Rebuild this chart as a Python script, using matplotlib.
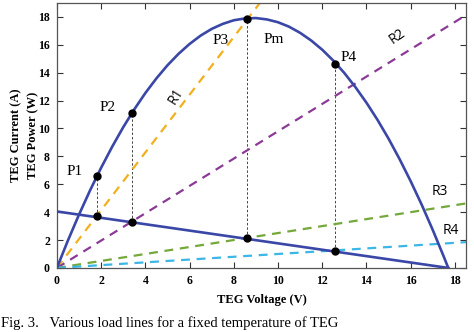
import numpy as np
import matplotlib.pyplot as plt

# ── Données ──────────────────────────────────────────────────────────────────
volt = [0, 0.5, 1, 1.5, 2, 2.5, 3, 3.5, 4, 4.5, 5, 5.5, 6, 6.5, 7, 7.5, 8,
        8.5, 9, 9.5, 10, 10.5, 11, 11.5, 12, 12.5, 13, 13.5, 14, 14.5, 15,
        15.5, 16, 16.5, 17, 17.5, 17.7]
power = [0, 1.97, 3.82, 5.56, 7.18, 8.69, 10.09, 11.37, 12.54, 13.59, 14.53,
         15.35, 16.06, 16.66, 17.14, 17.50, 17.76, 17.89, 17.92, 17.82, 17.62,
         17.30, 16.86, 16.31, 15.65, 14.87, 13.98, 12.97, 11.85, 10.62, 9.27,
         7.80, 6.22, 4.53, 2.72, 0.80, 0]
iv_volt = [0, 17.7]
iv_curr = [4.05, 0]

load_names = ['R1', 'R2', 'R3', 'R4']
load_slopes = [2.07, 0.98, 0.25, 0.10]
load_colors = ['#f2b01e', '#8b3a96', '#74a83a', '#3cb6e6']

pt_volt = [1.8, 3.4, 8.6, 12.6]
pt_power = [6.6, 11.1, 17.85, 14.6]
pt_curr = [3.7, 3.3, 2.15, 1.2]

x_ticks = list(range(0, 19, 2))
y_ticks = list(range(0, 19, 2))

serif = 'Liberation Serif'
blue = '#3a47a6'

fig = plt.figure(figsize=(4.74, 3.32), dpi=100)
ax = fig.add_axes([0.120, 0.193, 0.863, 0.798])

# droites de charge
xs = np.array([0, 18.5])
for name, k, c in zip(load_names, load_slopes, load_colors):
    ax.plot(xs, k * xs, '--', color=c, lw=1.6, dashes=(4, 3), zorder=2)

# traits verticaux
for v, p, i in zip(pt_volt, pt_power, pt_curr):
    ax.plot([v, v], [i, p], color='#444444', lw=0.7, ls=(0, (2.5, 2)), zorder=1)

# courbes TEG
ax.plot(volt, power, color=blue, lw=1.9, zorder=3)
ax.plot(iv_volt, iv_curr, color=blue, lw=1.9, zorder=3)

ax.plot(pt_volt, pt_power, 'o', color='black', ms=5, zorder=4)
ax.plot(pt_volt, pt_curr, 'o', color='black', ms=5, zorder=4)

# étiquettes des points
for txt, x, y in [('P1', 0.8, 6.9), ('P2', 2.3, 11.5), ('P3', 7.4, 16.3),
                  ('Pm', 9.8, 16.4), ('P4', 13.2, 15.1)]:
    ax.text(x, y, txt, family=serif, fontsize=11, ha='center', va='center')

for txt, x, y, rot in [('R1', 5.4, 12.3, 58), ('R2', 15.4, 16.6, 35),
                       ('R3', 17.3, 5.5, 0), ('R4', 17.8, 2.7, 0)]:
    ax.text(x, y, txt, family='Open Sans', fontsize=10, ha='center',
            va='center', rotation=rot)

ax.set_xlim(0, 18.5)
ax.set_ylim(0, 19)
ax.set_xticks(x_ticks)
ax.set_yticks(y_ticks)
ax.tick_params(direction='in', top=True, right=True, length=4, width=0.8,
               color='#333333', labelsize=8.5, pad=5)
for lab in ax.get_xticklabels() + ax.get_yticklabels():
    lab.set_family(serif)
    lab.set_fontweight('bold')
for s in ax.spines.values():
    s.set_color('#555555')
    s.set_linewidth(0.9)

ax.set_xlabel('TEG Voltage (V)', family=serif, fontweight='bold', fontsize=9,
              labelpad=5)
ax.set_ylabel('TEG Current (A)\nTEG Power (W)', family=serif, fontweight='bold',
              fontsize=9, labelpad=-1, linespacing=1.6)

fig.text(0.002, 0.027, 'Fig. 3.   Various load lines for a fixed temperature of TEG',
         family=serif, fontsize=10.5, ha='left', va='center')

fig.savefig('out.png', dpi=100)
